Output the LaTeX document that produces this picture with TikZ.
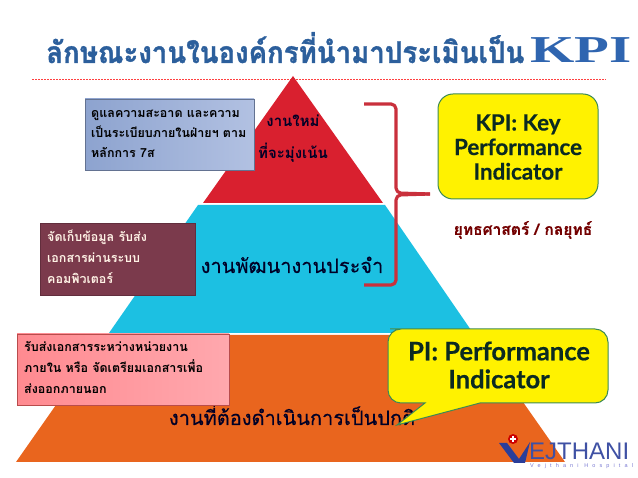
\documentclass[tikz,border=0pt]{standalone}
\usepackage{fontspec}
\usetikzlibrary{shadows,shadings,calc}
\setmainfont{Liberation Sans}
\newfontfamily\thaifont[Script=Thai]{Loma}
\newfontfamily\thaititle[Script=Thai,FakeStretch=0.92,FakeBold=1.2]{Loma}
\newfontfamily\thaihead[Script=Thai,FakeBold=0.4]{Loma}
\newfontfamily\gillfont[FakeBold=0.5]{Lato}
\newfontfamily\kpifont[FakeStretch=1.5]{Liberation Serif}
\newfontfamily\logofont{Liberation Sans}
\definecolor{titleblue}{HTML}{2C5F9C}
\definecolor{kpiblue}{HTML}{2F65B0}
\definecolor{redtri}{HTML}{D9202F}
\definecolor{cyantri}{HTML}{1CC0E2}
\definecolor{orangetri}{HTML}{E9651E}
\definecolor{bracered}{HTML}{C9303C}
\definecolor{boxgreen}{HTML}{3C8A55}
\definecolor{darktext}{HTML}{0B2A22}
\definecolor{maroon}{HTML}{7B3A4C}
\definecolor{logoblue}{HTML}{2A3E9A}
\definecolor{noteblueA}{HTML}{8DA3CF}
\definecolor{noteblueB}{HTML}{B2C1E2}
\definecolor{pinkA}{HTML}{FF8A90}
\definecolor{pinkM}{HTML}{FF7E86}
\definecolor{pinkB}{HTML}{FFA8AE}
\tikzset{
  x=1pt,y=-1pt,
  notebox/.style={anchor=north west,inner sep=0pt,outer sep=0pt,drop shadow={shadow xshift=1pt,shadow yshift=-1.5pt,opacity=.45}},
  notetext/.style={anchor=base west,inner sep=0pt,font=\thaifont\fontsize{12.5}{14}\selectfont\bfseries},
  tritext/.style={anchor=base,inner sep=0pt,font=\thaifont\fontsize{15}{18}\selectfont\bfseries,text=black!85!blue},
  bigtri/.style={tritext,font=\thaihead\fontsize{20}{22}\selectfont},
  yellowtext/.style={inner sep=0pt,align=center,text=darktext,font=\gillfont\fontsize{22.4}{24.5}\selectfont\bfseries},
}
\begin{document}
\begin{tikzpicture}
\useasboundingbox (0,0) rectangle (638,478);
% title
\node[anchor=base west,inner sep=0pt,text=titleblue,font=\thaititle\fontsize{30}{32}\selectfont\bfseries] (title) at (46,63) {ลักษณะงานในองค์กรที่นำมาประเมินเป็น};
\node[anchor=base west,inner sep=0pt,text=kpiblue,font=\kpifont\fontsize{38}{40}\selectfont\bfseries] (kpi) at (530,63) {KPI};
\coordinate (ruleL) at (32,79);
\coordinate (ruleR) at (606,79);
\draw[red!75!white,dash pattern=on 1.5pt off 1.5pt,line width=.6pt] (ruleL) -- (ruleR);
% pyramid
\fill[orangetri] (105,335) -- (476,335) -- (565,462) -- (16,462) -- cycle;
\fill[cyantri] (198,205) -- (385,205) -- (473,333) -- (109,333) -- cycle;
\fill[redtri] (293,76) -- (383,203) -- (203,203) -- cycle;
\node[tritext] (t1a) at (293,127) {งานใหม่};
\node[tritext] (t1b) at (293,159) {ที่จะมุ่งเน้น};
\node[bigtri] (t2) at (292,273) {งานพัฒนางานประจำ};
\node[bigtri] (t3) at (292,425) {งานที่ต้องดำเนินการเป็นปกติ};
% note boxes
\node[notebox,draw=noteblueA!70!black,line width=.6pt,left color=noteblueA,right color=noteblueB,minimum width=169pt,minimum height=71pt] (n1) at (85,99) {};
\node[notetext] (n1a) at (91,118) {ดูแลความสะอาด และความ};
\node[notetext] (n1b) at (91,138) {เป็นระเบียบภายในฝ่ายฯ ตาม};
\node[notetext] (n1c) at (91,158) {หลักการ 7ส};
\node[notebox,fill=maroon,draw=maroon!80!black,line width=.6pt,minimum width=155pt,minimum height=72pt] (n2) at (40,223) {};
\node[notetext,text=white!90!orange] (n2a) at (47,242) {จัดเก็บข้อมูล รับส่ง};
\node[notetext,text=white!90!orange] (n2b) at (47,263) {เอกสารผ่านระบบ};
\node[notetext,text=white!90!orange] (n2c) at (47,284) {คอมพิวเตอร์};
\node[notebox,draw=red!60!black!70,line width=.6pt,left color=pinkA,middle color=pinkM,right color=pinkB,minimum width=212pt,minimum height=71pt] (n3) at (17,334) {};
\node[notetext] (n3a) at (24,352) {รับส่งเอกสารระหว่างหน่วยงาน};
\node[notetext] (n3b) at (24,373) {ภายใน หรือ จัดเตรียมเอกสารเพื่อ};
\node[notetext] (n3c) at (24,394) {ส่งออกภายนอก};
% brace
\coordinate (brTop) at (364,104);
\coordinate (brBot) at (364,285);
\coordinate (brTip) at (430,194);
\draw[bracered,line width=3.2pt,line join=round,rounded corners=5pt] (brTop) -- (396,104) -- (396,193) -- (brTip);
\draw[bracered,line width=3.2pt,line join=round,rounded corners=5pt] (brBot) -- (396,285) -- (396,195) -- (brTip);
% KPI box
\node[draw=boxgreen,line width=1pt,fill=yellow,rounded corners=15pt,minimum width=160pt,minimum height=105pt,inner sep=0pt] (kbox) at (518,146.5) {};
\node[yellowtext] (ktext) at (518,147) {KPI: Key\\Performance\\Indicator};
\node[inner sep=0pt,text=red!45!black,font=\thaihead\fontsize{15.6}{18}\selectfont\bfseries] (ystrat) at (523,230) {ยุทธศาสตร์ / กลยุทธ์};
% PI callout
\coordinate (piTip) at (397,425);
\draw[boxgreen,line width=1pt,fill=yellow,rounded corners=0pt]
  (403,329) [rounded corners=13pt] -- (608,329) -- (608,403) [rounded corners=0pt] -- (480,403) -- (piTip) -- (425,403) [rounded corners=13pt] -- (388,403) -- (388,329) -- cycle;
\node[yellowtext,font=\gillfont\fontsize{25.5}{28}\selectfont\bfseries] (ptext) at (499,365) {PI: Performance\\Indicator};
% logo
\fill[logoblue] (499,443) -- (507,443) -- (519,459) -- (530,442) -- (525,463) -- (514,463) -- cycle;
\fill[red!80!black] (513,439) circle (5pt);
\draw[white,line width=1.2pt] (510,439) -- (516,439) (513,436) -- (513,442);
\node[anchor=base west,inner sep=0pt,text=logoblue!90!white,font=\logofont\fontsize{24}{25}\selectfont] (lg) at (529,460) {EJTHANI};
\node[anchor=base west,inner sep=0pt,text=gray!50!blue!70,font=\fontsize{5.5}{6}\selectfont\addfontfeature{LetterSpace=75}] (lgs) at (530,468) {Vejthani Hospital};
\end{tikzpicture}
\end{document}
